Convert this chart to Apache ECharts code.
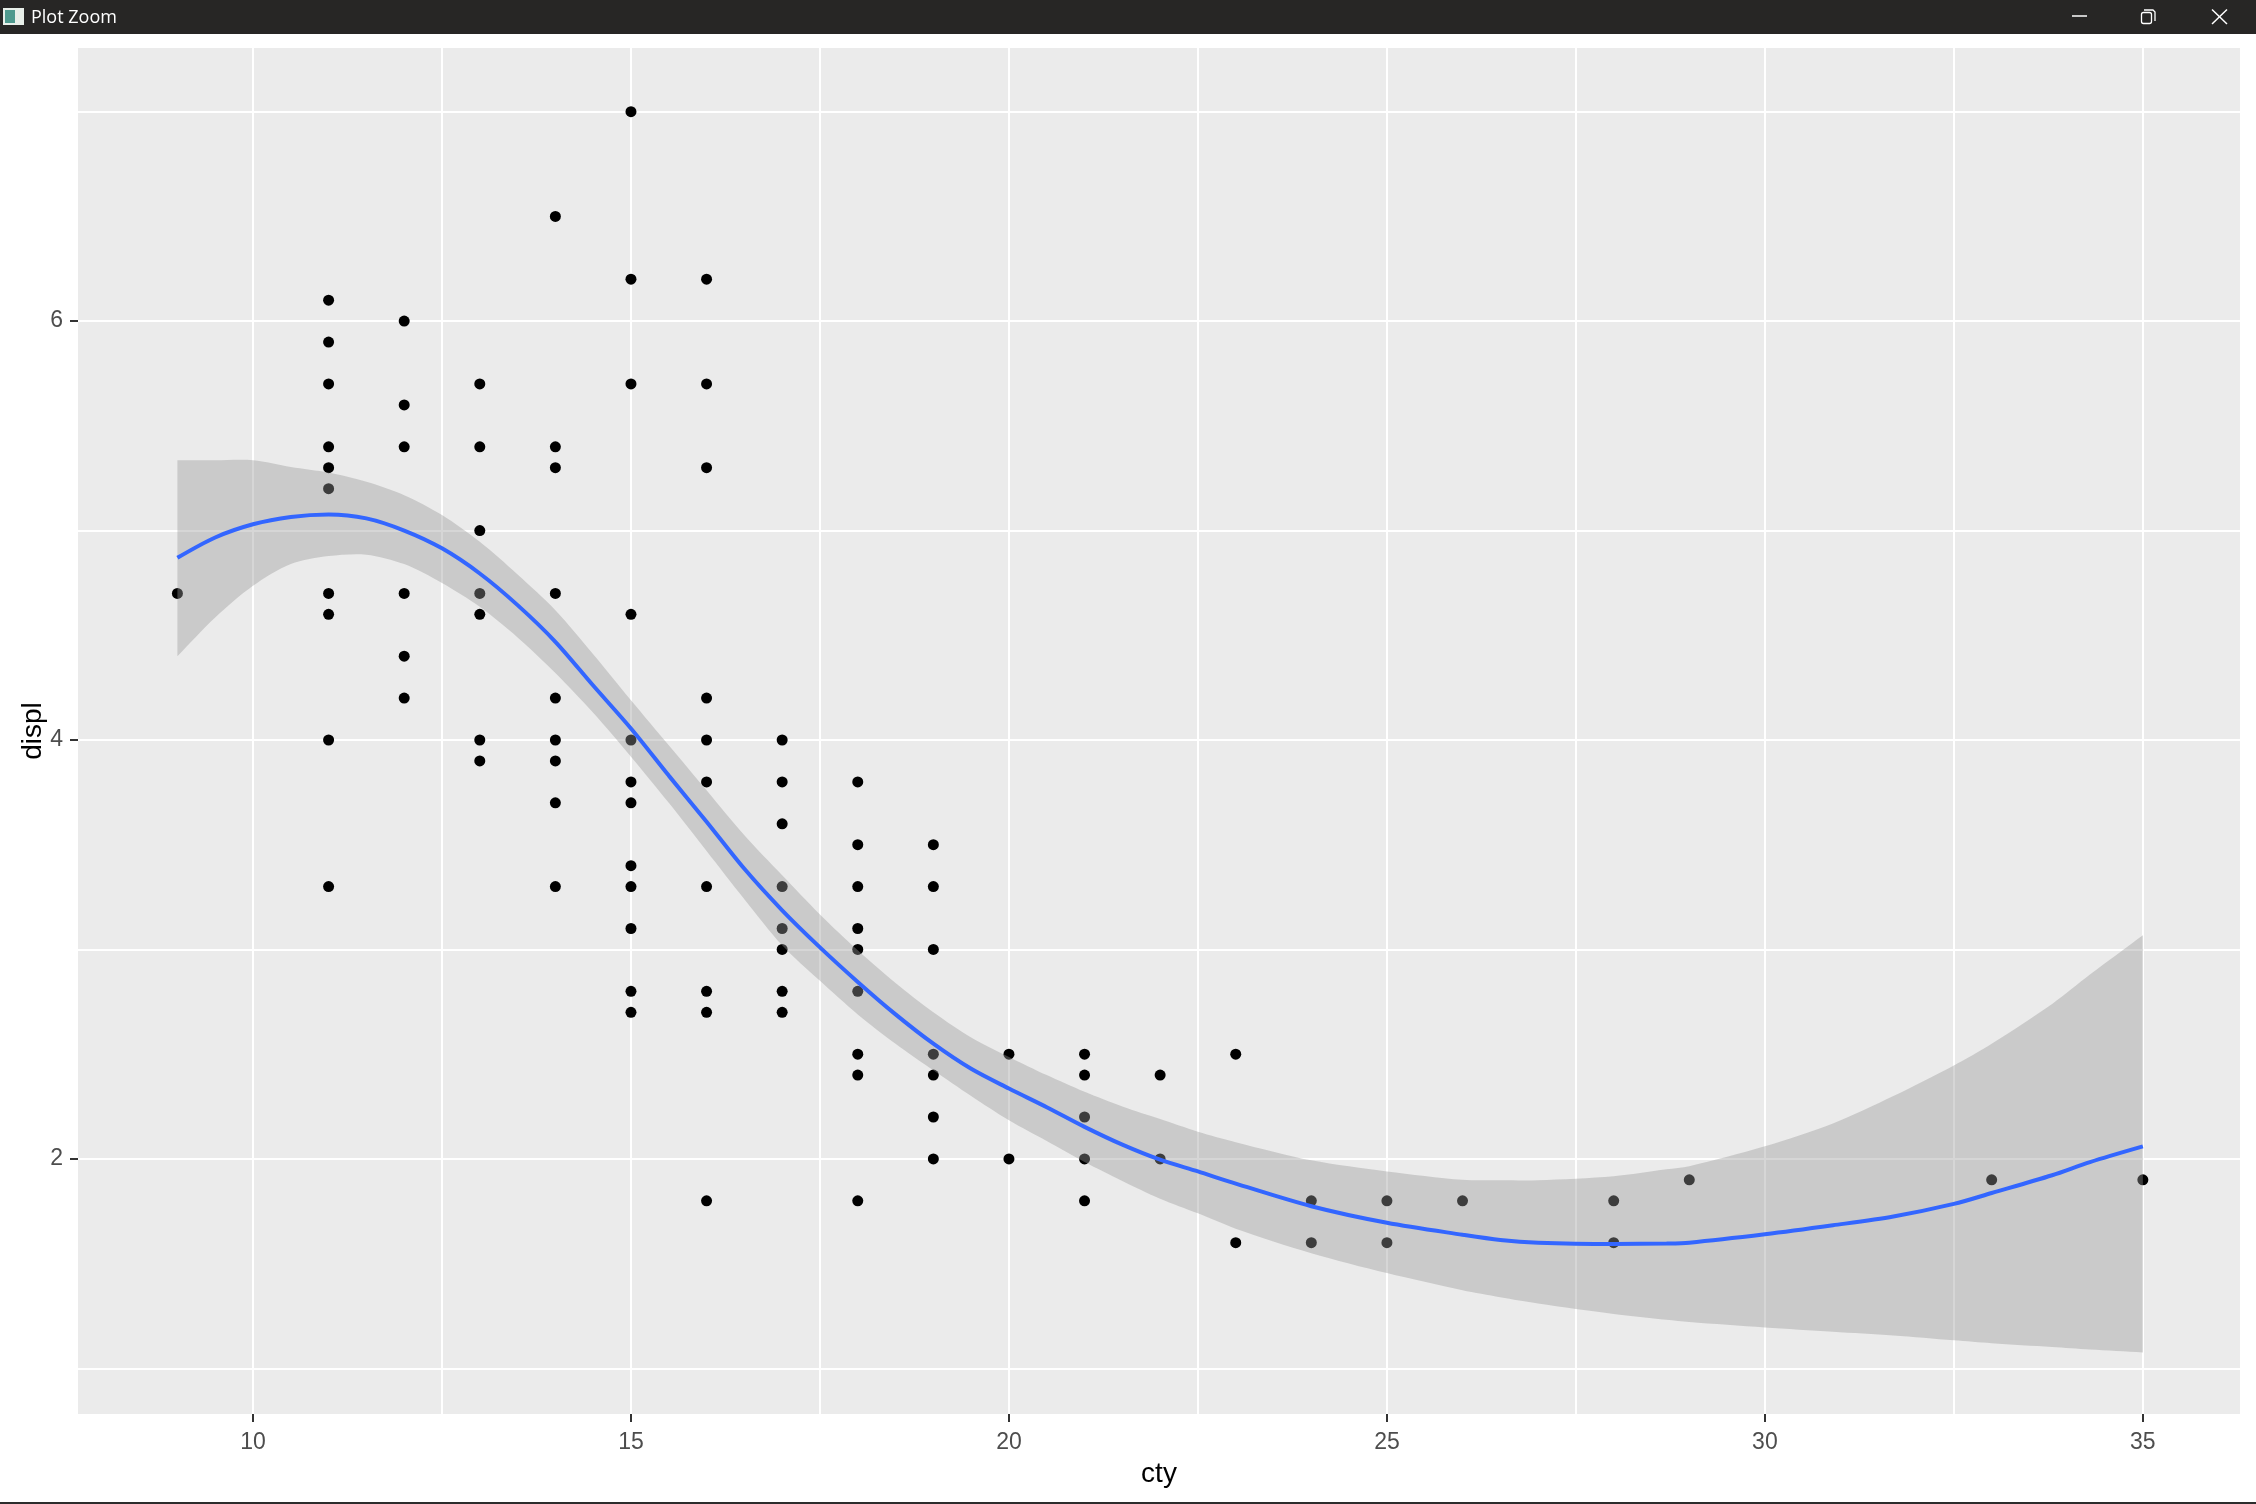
<!DOCTYPE html>
<html>
<head>
<meta charset="UTF-8">
<title>Plot Zoom</title>
<script type="text/javascript" src="https://cdn.jsdelivr.net/npm/echarts@6/dist/echarts.min.js"></script>
<style>
html,body{margin:0;padding:0;background:#fff;}
</style>
</head>
<body>

<div id="box" style="width:2256px;height:1504px;"></div>

<script type="text/javascript">

// axis ticks
var xMajor=[10,15,20,25,30,35];
var xMinor=[12.5,17.5,22.5,27.5,32.5];
var yMajor=[2,4,6];
var yMinor=[1,3,5,7];

// points: displ values at each cty
var ctyValues=[9,11,12,13,14,15,16,17,18,19,20,21,22,23,24,25,26,28,29,33,35];
var displValues=[
  [4.7],
  [6.1,5.9,5.7,5.4,5.3,5.2,4.7,4.6,4.0,3.3],
  [6.0,5.6,5.4,4.7,4.4,4.2],
  [5.7,5.4,5.0,4.7,4.6,4.0,3.9],
  [6.5,5.4,5.3,4.7,4.2,4.0,3.9,3.7,3.3],
  [7.0,6.2,5.7,4.6,4.0,3.8,3.7,3.4,3.3,3.1,2.8,2.7],
  [6.2,5.7,5.3,4.2,4.0,3.8,3.3,2.8,2.7,1.8],
  [4.0,3.8,3.6,3.3,3.1,3.0,2.8,2.7],
  [3.8,3.5,3.3,3.1,3.0,2.8,2.5,2.4,1.8],
  [3.5,3.3,3.0,2.5,2.4,2.2,2.0],
  [2.5,2.0],
  [2.5,2.4,2.2,2.0,1.8],
  [2.4,2.0],
  [2.5,1.6],
  [1.8,1.6],
  [1.8,1.6],
  [1.8],
  [1.8,1.6],
  [1.9],
  [1.9],
  [1.9]
];

// smooth line and its confidence band
var smoothCty=[9,9.5,10,10.5,11,11.5,12,12.5,13,13.5,14,14.5,15,15.5,16,16.5,17,17.5,18,18.5,19,19.5,20,20.5,21,21.5,22,22.5,23,24,25,26,26.5,27,28,28.7,29,30,30.9,31.7,32.5,33,33.8,34.3,35];
var smoothFit=[4.87,4.967,5.03,5.065,5.077,5.058,5.0,4.915,4.795,4.644,4.469,4.26,4.055,3.83,3.61,3.385,3.187,3.01,2.845,2.69,2.55,2.43,2.336,2.247,2.153,2.068,1.996,1.94,1.882,1.774,1.695,1.638,1.613,1.6,1.594,1.596,1.6,1.64,1.683,1.725,1.785,1.837,1.922,1.985,2.06];
var smoothUpper=[5.336,5.336,5.336,5.304,5.277,5.233,5.169,5.074,4.946,4.79,4.62,4.41,4.19,3.975,3.76,3.545,3.354,3.167,2.996,2.84,2.7,2.58,2.487,2.4,2.32,2.25,2.19,2.13,2.08,1.993,1.94,1.9,1.898,1.898,1.917,1.95,1.965,2.06,2.169,2.3,2.446,2.55,2.74,2.88,3.068];
var smoothLower=[4.4,4.585,4.736,4.84,4.878,4.885,4.84,4.75,4.636,4.49,4.32,4.13,3.92,3.7,3.47,3.24,3.02,2.85,2.69,2.55,2.423,2.3,2.184,2.085,1.985,1.895,1.81,1.74,1.667,1.55,1.455,1.373,1.34,1.31,1.26,1.232,1.221,1.195,1.175,1.157,1.134,1.12,1.102,1.09,1.076];

var points=[];
for(var i=0;i<ctyValues.length;i++){
  for(var j=0;j<displValues[i].length;j++){
    points.push([ctyValues[i],displValues[i][j]]);
  }
}
var fitLine=[];
for(var k=0;k<smoothCty.length;k++){
  fitLine.push([smoothCty[k],smoothFit[k]]);
}

// minor grid lines go in as markLines, ticks only sit on the major ones
var minorLines=[];
xMinor.forEach(function(v){minorLines.push({xAxis:v});});
yMinor.forEach(function(v){minorLines.push({yAxis:v});});

var chromeDark='#272625';

var mychart=echarts.init(document.getElementById('box'),null,{renderer:'canvas'});

var option={
  animation:false,
  backgroundColor:'#fff',
  grid:{
    left:78,
    top:48,
    width:2162,
    height:1366,
    show:true,
    backgroundColor:'#EBEBEB',
    borderWidth:0
  },
  xAxis:{
    type:'value',
    min:7.685,
    max:36.285,
    name:'cty',
    nameLocation:'middle',
    nameGap:46,
    nameMoveOverlap:false,
    nameTextStyle:{fontFamily:'Liberation Sans',fontSize:28,color:'#000'},
    axisLine:{show:false},
    axisTick:{show:true,customValues:xMajor,length:8,lineStyle:{color:'#333',width:2}},
    axisLabel:{customValues:xMajor,fontFamily:'Liberation Sans',fontSize:23,color:'#4D4D4D',margin:17},
    splitLine:{show:true,lineStyle:{color:'#fff',width:2}}
  },
  yAxis:{
    type:'value',
    min:0.782,
    max:7.304,
    name:'displ',
    nameLocation:'middle',
    nameGap:31,
    nameMoveOverlap:false,
    nameTextStyle:{fontFamily:'Liberation Sans',fontSize:28,color:'#000'},
    axisLine:{show:false},
    axisTick:{show:true,customValues:yMajor,length:8,lineStyle:{color:'#333',width:2}},
    axisLabel:{customValues:yMajor,fontFamily:'Liberation Sans',fontSize:23,color:'#4D4D4D',margin:15,padding:[5,0,0,0]},
    splitLine:{show:true,lineStyle:{color:'#fff',width:2}}
  },
  series:[
    {
      name:'points',
      type:'scatter',
      z:2,
      silent:true,
      symbolSize:11,
      itemStyle:{color:'#000',opacity:1},
      data:points,
      markLine:{
        silent:true,
        z:1,
        symbol:'none',
        label:{show:false},
        lineStyle:{color:'#fff',width:2,type:'solid'},
        data:minorLines
      }
    },
    {
      name:'band',
      type:'custom',
      z:3,
      silent:true,
      data:[0],
      encode:{x:-1,y:-1},
      renderItem:function(params,api){
        var pts=[];
        var last=smoothCty.length-1;
        // the corner points go in twice so the smoothing keeps the two ends square
        pts.push(api.coord([smoothCty[0],smoothUpper[0]]));
        for(var m=0;m<=last;m++){
          pts.push(api.coord([smoothCty[m],smoothUpper[m]]));
        }
        pts.push(api.coord([smoothCty[last],smoothUpper[last]]));
        pts.push(api.coord([smoothCty[last],smoothLower[last]]));
        for(var n=last;n>=0;n--){
          pts.push(api.coord([smoothCty[n],smoothLower[n]]));
        }
        pts.push(api.coord([smoothCty[0],smoothLower[0]]));
        return {type:'polygon',shape:{points:pts,smooth:0.3},style:{fill:'rgba(153,153,153,0.4)'}};
      }
    },
    {
      name:'fit',
      type:'line',
      z:4,
      silent:true,
      showSymbol:false,
      smooth:0.3,
      lineStyle:{color:'#3366FF',width:4},
      data:fitLine
    }
  ],
  // window frame around the plot
  graphic:[
    {type:'rect',shape:{x:0,y:0,width:2256,height:34},style:{fill:chromeDark}},
    {type:'rect',shape:{x:0,y:1502,width:2256,height:2},style:{fill:'#2c2c2c'}},
    {type:'rect',shape:{x:3,y:8,width:21,height:17},style:{fill:'#e8efe9'}},
    {type:'rect',shape:{x:5,y:10,width:10,height:13},style:{fill:'#4f9a8e'}},
    {type:'text',x:31,y:18,style:{text:'Plot Zoom',fill:'#fff',font:'18px "Open Sans"',textVerticalAlign:'middle'}},
    {type:'line',shape:{x1:2072,y1:16,x2:2087,y2:16},style:{stroke:'#fff',lineWidth:1.5}},
    {type:'rect',shape:{x:2141.5,y:12.5,width:10,height:11,r:2},style:{stroke:'#fff',fill:chromeDark,lineWidth:1.3}},
    {type:'polyline',shape:{points:[[2144,10],[2153,10],[2155,12],[2155,21]]},style:{stroke:'#fff',fill:null,lineWidth:1.3}},
    {type:'line',shape:{x1:2212,y1:9.5,x2:2227,y2:24},style:{stroke:'#fff',lineWidth:1.5}},
    {type:'line',shape:{x1:2227,y1:9.5,x2:2212,y2:24},style:{stroke:'#fff',lineWidth:1.5}}
  ]
};

mychart.setOption(option);
</script>
</body>
</html>
